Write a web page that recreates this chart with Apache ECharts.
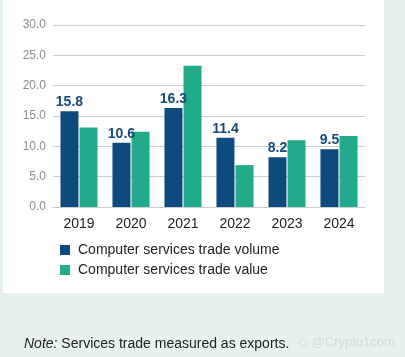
<!DOCTYPE html>
<html>
<head>
<meta charset="utf-8">
<script src="https://cdn.jsdelivr.net/npm/echarts@6/dist/echarts.min.js"></script>
<style>
html,body{margin:0;padding:0;background:#e7f1ed;}
#c{width:405px;height:357px;}
</style>
</head>
<body>
<div id="c"></div>
<script>
const years = ['2019','2020','2021','2022','2023','2024'];
const volume = [15.8, 10.6, 16.3, 11.4, 8.2, 9.5];
const value = [13.1, 12.4, 23.3, 6.9, 11.0, 11.7];
const seriesNames = ['Computer services trade volume', 'Computer services trade value'];
const noteLabel = 'Note:';
const noteText = ' Services trade measured as exports.';
const watermark = '◇ @Crypto1com';

const chart = echarts.init(document.getElementById('c'), null, {renderer:'canvas'});
const FONT = '"Liberation Sans", Arial, sans-serif';
chart.setOption({
  backgroundColor: '#e7f1ed',
  animation: false,
  graphic: [
    {type:'rect', left:3, top:0, shape:{width:381, height:293}, style:{fill:'#ffffff'}, z:-10},
    {type:'text', left:24, top:337, style:{
      text:'{i|' + noteLabel + '}{n|' + noteText + '}',
      rich:{
        i:{fontStyle:'italic', fontSize:14, fontFamily:FONT, fill:'#222'},
        n:{fontSize:14, fontFamily:FONT, fill:'#222'}
      }
    }},
    {type:'text', left:298, top:336, style:{text:watermark, fontSize:13, fontFamily:FONT, fill:'#d2dcd8'}}
  ],
  grid: {left:53, right:40, top:25, bottom:150, containLabel:false},
  legend: {
    orient:'vertical', left:60, top:243, padding:0, itemWidth:10, itemHeight:10, itemGap:6,
    icon:'rect',
    textStyle:{fontSize:14, fontFamily:FONT, color:'#222', padding:[0,0,0,3]},
    data: seriesNames
  },
  xAxis: {
    type:'category', data:years,
    axisLine:{show:true, lineStyle:{color:'#cccccc'}},
    axisTick:{show:false},
    axisLabel:{fontSize:14, fontFamily:FONT, color:'#222', margin:10}
  },
  yAxis: {
    type:'value', min:0, max:30, interval:5,
    axisLabel:{fontSize:12, fontFamily:FONT, color:'#8c8c8c', margin:7, formatter:v=>v.toFixed(1)},
    splitLine:{lineStyle:{color:'#cccccc'}},
    axisLine:{show:false}, axisTick:{show:false}
  },
  series: [
    {name:seriesNames[0], type:'bar', data:volume, barWidth:18, barGap:'6%',
     itemStyle:{color:'#0d4a7e'},
     label:{show:true, position:'top', distance:2, fontSize:14, fontWeight:'bold', fontFamily:FONT, color:'#154a7a', formatter:p=>p.value.toFixed(1)}},
    {name:seriesNames[1], type:'bar', data:value, barWidth:18,
     itemStyle:{color:'#22ab8a'}}
  ]
});
</script>
</body>
</html>
